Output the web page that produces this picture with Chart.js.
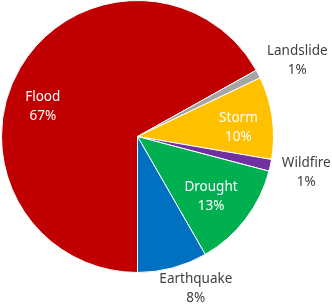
<!DOCTYPE html>
<html>
<head>
<meta charset="utf-8">
<script src="https://cdn.jsdelivr.net/npm/chart.js@4/dist/chart.umd.min.js"></script>
<style>
  html, body { margin: 0; padding: 0; background: #ffffff; }
  #wrap { width: 332px; height: 305px; position: relative; }
</style>
</head>
<body>
<div id="wrap"><canvas id="c" width="332" height="305"></canvas></div>
<script>
// Data (clockwise starting at 6 o'clock)
const categories = ['Flood', 'Landslide', 'Storm', 'Wildfire', 'Drought', 'Earthquake'];
const shares = [66.9, 1.0, 9.8, 1.4, 12.6, 8.3];

// Styles
const sliceColors = ['#C00000', '#A5A5A5', '#FFC000', '#7030A0', '#00B050', '#0070C0'];
const labelInside = [true, false, true, false, true, false];
// label placement relative to slice: radius fraction and angle nudge (deg)
const labelRadius = [0.73, 1.30, 0.745, 1.27, 0.70, 1.20];
const labelAngleNudge = [-13, 2, 3, 0, 2, -6];

const total = shares.reduce((a, b) => a + b, 0);

const labelPlugin = {
  id: 'sliceLabels',
  afterDatasetsDraw(chart) {
    const ctx = chart.ctx;
    const meta = chart.getDatasetMeta(0);
    ctx.save();
    ctx.font = '13.5px "Noto Sans", "Open Sans", sans-serif';
    ctx.textAlign = 'center';
    ctx.textBaseline = 'middle';
    meta.data.forEach((arc, i) => {
      const p = arc.getProps(['x', 'y', 'startAngle', 'endAngle', 'outerRadius'], true);
      const mid = (p.startAngle + p.endAngle) / 2 + labelAngleNudge[i] * Math.PI / 180;
      const r = p.outerRadius * labelRadius[i];
      const cx = p.x + Math.cos(mid) * r;
      const cy = p.y + Math.sin(mid) * r;
      const pct = Math.round(shares[i] / total * 100) + '%';
      ctx.fillStyle = labelInside[i] ? '#ffffff' : '#404040';
      ctx.fillText(categories[i], cx, cy - 9.5);
      ctx.fillText(pct, cx, cy + 9.5);
    });
    ctx.restore();
  }
};

new Chart(document.getElementById('c'), {
  type: 'pie',
  data: {
    labels: categories,
    datasets: [{
      data: shares,
      backgroundColor: sliceColors,
      borderColor: '#ffffff',
      borderWidth: 1
    }]
  },
  options: {
    responsive: false,
    animation: false,
    rotation: 180,
    layout: { padding: { left: 1, top: 0, right: 58, bottom: 32 } },
    plugins: {
      legend: { display: false },
      tooltip: { enabled: false }
    }
  },
  plugins: [labelPlugin]
});
</script>
</body>
</html>
